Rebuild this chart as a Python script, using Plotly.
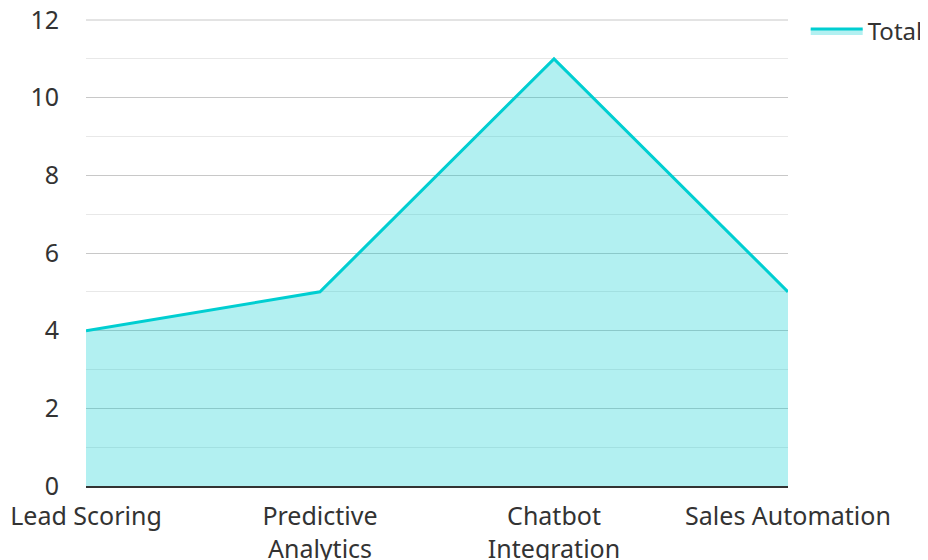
import plotly.graph_objects as go

categories = ["Lead Scoring", "Predictive<br>Analytics", "Chatbot<br>Integration", "Sales Automation"]
totals = [4, 5, 11, 5]
y_ticks = [0, 2, 4, 6, 8, 10, 12]

fig = go.Figure()
fig.add_trace(go.Scatter(
    x=categories, y=totals, name="Total", mode="lines",
    line=dict(color="#00CED1", width=3),
    fill="tozeroy", fillcolor="rgba(0,206,209,0.3)",
))

fig.update_layout(
    width=928, height=560,
    margin=dict(l=78, r=148, t=12, b=82, autoexpand=False),
    paper_bgcolor="white", plot_bgcolor="white",
    font=dict(family="Noto Sans", size=25, color="#333333"),
    showlegend=True,
    legend=dict(x=1.199, y=1.024, xanchor="right", yanchor="top", itemwidth=52,
                font=dict(size=24), bgcolor="rgba(0,0,0,0)"),
    xaxis=dict(showgrid=False, showline=True, linecolor="#333333", linewidth=2,
               ticks="", range=[0, 3], ticklabelstandoff=7, automargin=False),
    yaxis=dict(range=[0, 12], tickvals=y_ticks, showgrid=True, gridcolor="#c8c8c8",
               gridwidth=1, zeroline=False, ticks="", ticklabelstandoff=26, automargin=False,
               ticklabeloverflow="allow",
               minor=dict(dtick=1, showgrid=True, gridcolor="#e8e8e8", gridwidth=1)),
    shapes=[dict(type="line", xref="paper", yref="paper", x0=0, x1=1, y0=1, y1=1,
                 line=dict(color="#c8c8c8", width=1), layer="below")],
)

fig.write_html("out.html")
